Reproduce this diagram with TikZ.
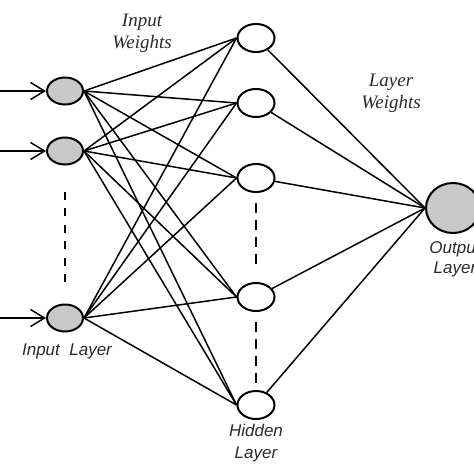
\documentclass[tikz,border=0pt]{standalone}
\usepackage{fontspec}
\setmainfont{Liberation Serif}
\setsansfont{Liberation Sans}
\usetikzlibrary{arrows.meta,positioning,shapes.geometric}
\definecolor{nodegray}{HTML}{C8C8C8}
\definecolor{textgray}{HTML}{2A2A2A}

\begin{document}
\begin{tikzpicture}[x=1pt, y=-1pt,
    neuron/.style={
      ellipse, draw, line width=2pt,
      minimum width=37pt, minimum height=28pt, inner sep=0pt
    },
    innode/.style={neuron, fill=nodegray, minimum width=36pt, minimum height=27pt},
    outnode/.style={neuron, fill=nodegray, minimum width=54pt, minimum height=50pt},
    link/.style={line width=1.5pt},
    feed/.style={line width=1.5pt, -{Straight Barb[length=14pt, width=17pt, line width=1.5pt]}},
    gap/.style={line width=2.7pt, dash pattern=on 10pt off 7pt},
    wlabel/.style={font=\fontsize{19}{22}\selectfont\itshape, text=textgray, align=center, inner sep=0pt},
    llabel/.style={font=\fontsize{17}{22}\selectfont\sffamily\itshape, text=textgray, align=center, inner sep=0pt}
  ]
  \useasboundingbox (0,0) rectangle (474,474);
  \clip (0,0) rectangle (474,474);

  % input layer
  \node[innode] (i1) at (65,91) {};
  \node[innode] (i2) at (65,151) {};
  \node[innode] (i3) at (65,318) {};
  \foreach \k/\y in {1/91, 2/151, 3/318} {
    \coordinate (s\k) at (0,\y);
    \draw[feed] (s\k) -- (i\k.west);
  }

  % hidden layer
  \foreach \j/\y in {1/38, 2/103, 3/178, 4/297, 5/405}
    \node[neuron] (h\j) at (256,\y) {};

  % output layer
  \node[outnode] (out) at (453,208) {};

  % weights
  \foreach \k in {1,2,3}
    \foreach \j in {1,...,5}
      \draw[link] (i\k.east) -- (h\j.west);
  \foreach \j in {1,...,5}
    \draw[link] (h\j) -- (out.west);

  % skipped units
  \coordinate (d1) at (65,192);
  \coordinate (d2) at (65,282);
  \draw[gap, dash pattern=on 8pt off 8.4pt] (d1) -- (d2);
  \coordinate (d3) at (256,203);
  \coordinate (d4) at (256,264);
  \coordinate (d5) at (256,322);
  \coordinate (d6) at (256,383);
  \draw[gap] (d3) -- (d4);
  \draw[gap] (d5) -- (d6);

  % labels
  \node[wlabel] (iw) at (142,33) {Input\\Weights};
  \node[wlabel] (lw) at (391,93) {Layer\\Weights};
  \node[llabel] (il) at (67,351) {Input\ \ Layer};
  \node[llabel] (hl) at (256,443) {Hidden\\Layer};
  \node[llabel, font=\fontsize{17}{20}\selectfont\sffamily\itshape] (ol) at (455,259) {Output\\Layer};
\end{tikzpicture}
\end{document}
